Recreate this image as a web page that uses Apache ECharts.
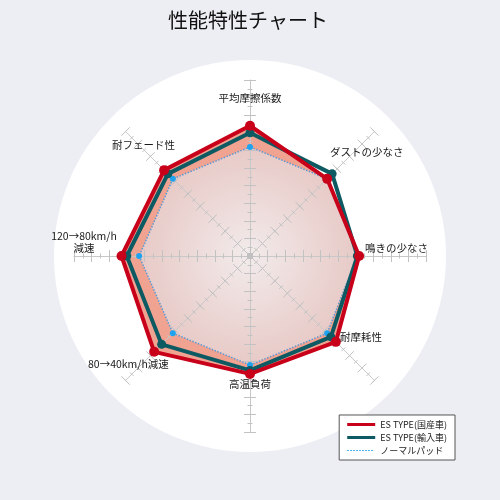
<!DOCTYPE html>
<html><head><meta charset="utf-8">
<script src="https://cdn.jsdelivr.net/npm/echarts@6/dist/echarts.min.js"></script>
<style>html,body{margin:0;padding:0;background:#eceef3}#c{width:500px;height:500px}</style>
</head><body><div id="c"></div>
<script>
// ---- data ----
const categories = ['平均摩擦係数', '耐フェード性', '120→80km/h\n減速', '80→40km/h減速', '高温負荷', '耐摩耗性', '鳴きの少なさ', 'ダストの少なさ'];
const esDomestic = [7.4, 6.9, 7.3, 7.7, 6.7, 6.9, 6.2, 6.2];
const esImport   = [7.0, 6.6, 7.0, 7.1, 6.5, 6.5, 6.1, 6.6];
const normalPad  = [6.2, 6.2, 6.3, 6.2, 6.2, 6.2, 6.1, 6.2];
const centerDot  = [0, 0, 0, 0, 0, 0, 0, 0];
const seriesNames = ['ES TYPE(国産車)', 'ES TYPE(輸入車)', 'ノーマルパッド'];
const axisMax = 10;

// ---- layout ----
const FONT = '"Noto Sans CJK JP", "Noto Sans", sans-serif';
const CENTER = ['50%', 256];
const R = 176;
const TICK = '#c2c2c2';
const labelLayout = [
  {x: 250, y: 98, align: 'center'},
  {x: 112, y: 145, align: 'left'},
  {x: 84, y: 242, align: 'center'},
  {x: 88, y: 364, align: 'left'},
  {x: 250, y: 384, align: 'center'},
  {x: 340, y: 337, align: 'left'},
  {x: 365, y: 248, align: 'left'},
  {x: 330, y: 152, align: 'left'}
];

const indicator = categories.map(n => ({name: n, min: 0, max: axisMax}));
function baseRadar(extra) {
  return Object.assign({
    center: CENTER, radius: R, startAngle: 90, shape: 'polygon', indicator,
    axisName: {show: false}, axisLine: {show: false}, splitLine: {show: false},
    splitArea: {show: false}, axisTick: {show: false}, z: 2
  }, extra);
}
function tickRadar(split, len) {
  return baseRadar({splitNumber: split, axisTick: {show: true, length: len, inside: false, lineStyle: {color: TICK, width: 1}}});
}

let dash = 'M0,0h0.01v0.01h-0.01zM27.99,2.99h0.01v0.01h-0.01z';
for (let x = 0; x < 27; x += 3) dash += 'M' + x + ',1.1h1.6v0.8h-1.6z';

const chart = echarts.init(document.getElementById('c'));
chart.setOption({
  backgroundColor: '#eceef3',
  animation: false,
  title: {text: '性能特性チャート', left: 163, top: 5,
    textStyle: {fontSize: 20, fontWeight: 'normal', color: '#111', fontFamily: FONT}},
  legend: {
    orient: 'vertical', right: 45, bottom: 40, backgroundColor: '#fff',
    borderColor: '#555', borderWidth: 1, borderRadius: 0, padding: [5, 8, 5, 8],
    itemGap: 4, itemWidth: 28, itemHeight: 3,
    textStyle: {fontSize: 9, color: '#222', fontFamily: FONT},
    data: [
      {name: seriesNames[0], icon: 'rect'},
      {name: seriesNames[1], icon: 'rect'},
      {name: seriesNames[2], icon: 'path://' + dash}
    ]
  },
  radar: [
    baseRadar({radius: 196, shape: 'circle', splitNumber: 1, z: 0,
      splitArea: {show: true, areaStyle: {color: ['#ffffff']}}}),
    baseRadar({splitNumber: 10, axisLine: {show: true, lineStyle: {color: '#c8c8c8', width: 1}},
      axisTick: {show: true, length: 6, inside: false, lineStyle: {color: TICK, width: 1}}}),
    tickRadar(10, -6),
    tickRadar(20, 2.5),
    tickRadar(20, -2.5)
  ],
  graphic: categories.map((c, i) => ({
    type: 'text', x: labelLayout[i].x, y: labelLayout[i].y, z: 10,
    style: {text: c, font: '10.5px ' + FONT, fill: '#1a1a1a', align: labelLayout[i].align,
      verticalAlign: 'middle', lineHeight: 12}
  })),
  series: [
    {type: 'radar', radarIndex: 1, z: 1, silent: true, symbol: 'none', lineStyle: {width: 0},
      areaStyle: {color: '#f1a392', opacity: 1},
      data: [{value: esDomestic, name: 'fill-outer'}]},
    {type: 'radar', radarIndex: 1, z: 1, silent: true, symbol: 'none', lineStyle: {width: 0},
      areaStyle: {opacity: 1, color: {type: 'radial', x: 0.5, y: 0.5, r: 0.6,
        colorStops: [{offset: 0, color: '#f2ebeb'}, {offset: 1, color: '#e5c3bf'}]}},
      data: [{value: normalPad, name: 'fill-inner'}]},
    {type: 'radar', radarIndex: 1, z: 3, symbol: 'circle', symbolSize: 6,
      itemStyle: {color: '#1ea3f0'},
      lineStyle: {color: '#5b9bd5', width: 1.5, type: 'dotted'},
      data: [{value: normalPad, name: seriesNames[2]}]},
    {type: 'radar', radarIndex: 1, z: 4, symbol: 'circle', symbolSize: 9,
      itemStyle: {color: '#0d5a63'},
      lineStyle: {color: '#0d5a63', width: 4},
      data: [{value: esImport, name: seriesNames[1]}]},
    {type: 'radar', radarIndex: 1, z: 5, symbol: 'circle', symbolSize: 10,
      itemStyle: {color: '#c8001a'},
      lineStyle: {color: '#c8001a', width: 4},
      data: [{value: esDomestic, name: seriesNames[0]}]},
    {type: 'radar', radarIndex: 1, z: 2, silent: true, symbol: 'circle', symbolSize: 6,
      itemStyle: {color: '#c0c0c0'}, lineStyle: {width: 0},
      data: [{value: centerDot, name: 'center'}]}
  ]
});
</script></body></html>
